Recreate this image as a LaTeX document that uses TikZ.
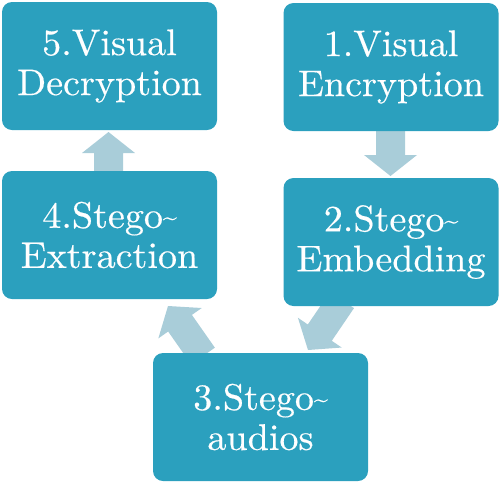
\documentclass[tikz,border=0pt]{standalone}
\usepackage{fontspec}
\setmainfont{lmroman10-regular.otf}[FakeStretch=1.03,FakeBold=0.4]
\usetikzlibrary{calc}
\definecolor{boxc}{RGB}{43,160,190}
\definecolor{arrc}{RGB}{169,205,217}
\newcommand\tld{{\fontsize{24}{24}\selectfont\raisebox{3pt}{\textasciitilde}}}
\newcommand\blockarrow[2]{%
  \coordinate (h#1) at ($(#2)!21pt!(#1)$);
  \fill[arrowfill] ($(#1)!14.5pt!90:(#2)$) -- ($(h#1)!14.5pt!90:(#2)$) -- ($(h#1)!26.5pt!90:(#2)$)
    -- (#2) -- ($(h#1)!26.5pt!-90:(#2)$) -- ($(h#1)!14.5pt!-90:(#2)$) -- ($(#1)!14.5pt!-90:(#2)$) -- cycle;}
\begin{document}
\begin{tikzpicture}[x=1pt,y=-1pt,
  stepbox/.style={rectangle, rounded corners=10pt, fill=boxc, draw=none,
    minimum width=215pt, minimum height=128pt, inner sep=0pt,
    text=white, align=center, font=\fontsize{37}{40}\selectfont},
  arrowfill/.style={fill=arrc}]
\useasboundingbox (0,0) rectangle (500,483);
% arrow end points
\coordinate (a1s) at (390.5,120);
\coordinate (a1t) at (390.5,176);
\coordinate (a2s) at (342,300);
\coordinate (a2t) at (308,350);
\coordinate (a3s) at (203,356);
\coordinate (a3t) at (168,306);
\coordinate (a4s) at (108.5,180);
\coordinate (a4t) at (108.5,132);
\blockarrow{a1s}{a1t}
\blockarrow{a2s}{a2t}
\blockarrow{a3s}{a3t}
\blockarrow{a4s}{a4t}
% boxes
\node[stepbox] (b5) at (109.5,66) {5.Visual\\Decryption};
\node[stepbox] (b1) at (391,67) {1.Visual\\Encryption};
\node[stepbox] (b4) at (109.5,235) {4.Stego\tld\\Extraction};
\node[stepbox] (b2) at (391,242) {2.Stego\tld\\Embedding};
\node[stepbox] (b3) at (260.5,417) {3.Stego\tld\\audios};
\end{tikzpicture}
\end{document}
